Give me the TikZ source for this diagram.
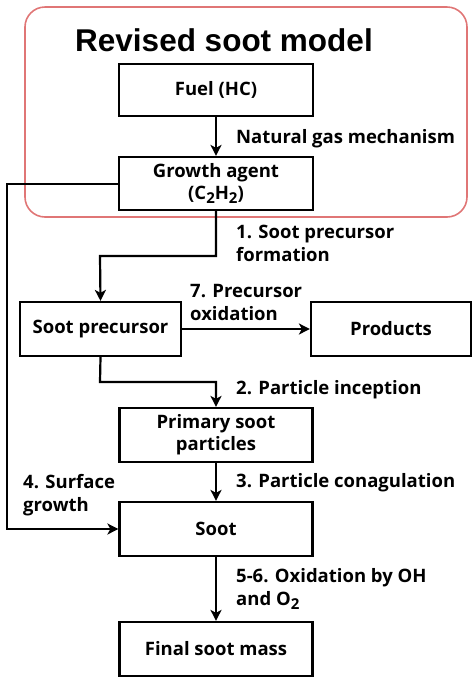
\documentclass[tikz,border=0pt]{standalone}
\usepackage{fontspec}
\setmainfont{Open Sans}
\newfontfamily\titlefont{Liberation Sans}
\usetikzlibrary{arrows.meta}
\newcommand\lowsub[1]{\raisebox{-0.35ex}{\fontsize{15pt}{15pt}\selectfont #1}}
\definecolor{redline}{RGB}{224,118,118}
\tikzset{
  box/.style={draw=black, line width=2.2pt, inner sep=0pt, align=center,
    font=\fontsize{18.5pt}{22pt}\selectfont\bfseries},
  lbl/.style={inner sep=0pt, anchor=west, align=left,
    font=\fontsize{18.5pt}{23pt}\selectfont\bfseries},
  flow/.style={draw=black, line width=2.2pt, -{Stealth[length=11pt,width=11pt,inset=3pt]}},
}
\begin{document}
\begin{tikzpicture}[x=1pt,y=-1pt]
\useasboundingbox (0,0) rectangle (474,681);
\draw[redline, line width=1.6pt, rounded corners=20pt] (25,7) rectangle (467,217);
\node[inner sep=0pt, font=\titlefont\fontsize{31.5pt}{32pt}\selectfont\bfseries] (title) at (224,40) {Revised soot model};

\node[box, minimum width=194pt, minimum height=52pt] (fuel) at (216,90) {Fuel (HC)};
\node[box, minimum width=194pt, minimum height=53pt] (growth) at (216,183.5) {Growth agent\\(C\lowsub{2}H\lowsub{2})};
\node[box, minimum width=161pt, minimum height=54pt] (prec) at (100.5,329) {Soot precursor};
\node[box, minimum width=160pt, minimum height=54pt] (prod) at (391,329) {Products};
\node[box, minimum width=193pt, minimum height=54pt] (prim) at (216,435) {Primary soot\\particles};
\node[box, minimum width=193pt, minimum height=54pt] (soot) at (216,529) {Soot};
\node[box, minimum width=193pt, minimum height=54pt] (final) at (216,649) {Final soot mass};

\coordinate (gl) at (7,184);
\coordinate (sl) at (7,529);
\coordinate (g1) at (216,256);
\coordinate (g2) at (100,256);
\coordinate (p1) at (100,382);
\coordinate (p2) at (216,382);

\draw[flow] (fuel) -- (growth);
\draw[flow] (growth.south) -- (g1) -- (g2) -- (prec.north);
\draw[flow] (prec) -- (prod);
\draw[flow] (prec.south) -- (p1) -- (p2) -- (prim.north);
\draw[flow] (prim) -- (soot);
\draw[flow] (growth.west |- gl) -- (gl) -- (sl) -- (soot.west);
\draw[flow] (soot) -- (final);

\node[lbl] (l0) at (236,139) {Natural gas mechanism};
\node[lbl] (l1) at (236,243) {1. Soot precursor\\formation};
\node[lbl] (l7) at (190,302.5) {7. Precursor\\oxidation};
\node[lbl] (l2) at (236,390) {2. Particle inception};
\node[lbl] (l3) at (236,483) {3. Particle conagulation};
\node[lbl] (l4) at (23,495) {4. Surface\\growth};
\node[lbl] (l5) at (236,589) {5-6. Oxidation by OH\\and O\lowsub{2}};
\end{tikzpicture}
\end{document}
